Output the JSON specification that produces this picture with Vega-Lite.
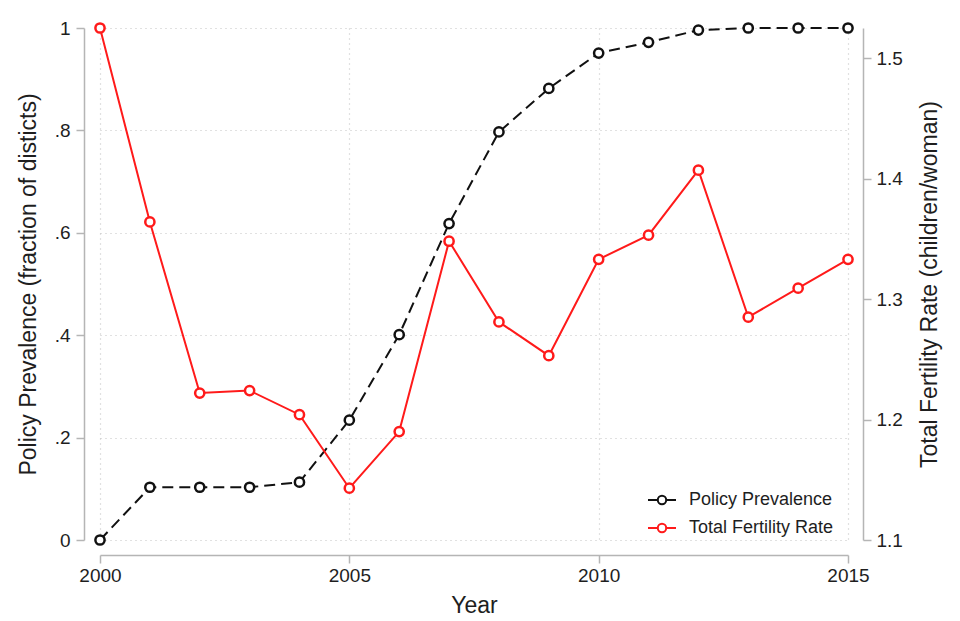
{
  "$schema": "https://vega.github.io/schema/vega-lite/v6.json",
  "width": 748,
  "height": 512,
  "autosize": "none",
  "padding": {"left": 100, "top": 28, "right": 112, "bottom": 81},
  "config": {
    "view": {"stroke": null},
    "font": "Liberation Sans",
    "axis": {
      "domainColor": "#b5b5b5",
      "domainWidth": 1.5,
      "tickColor": "#b5b5b5",
      "tickWidth": 1.5,
      "tickSize": 8,
      "labelFontSize": 19,
      "labelColor": "#1e1e1e",
      "titleFontSize": 23,
      "titleFontWeight": "normal",
      "titleColor": "#1e1e1e",
      "gridColor": "#c4c4c4",
      "gridDash": [1, 4],
      "gridWidth": 1.2
    }
  },
  "data": {
    "values": [
      {"year": 2000, "series": "Policy Prevalence", "value": 0},
      {"year": 2001, "series": "Policy Prevalence", "value": 0.103},
      {"year": 2002, "series": "Policy Prevalence", "value": 0.103},
      {"year": 2003, "series": "Policy Prevalence", "value": 0.103},
      {"year": 2004, "series": "Policy Prevalence", "value": 0.113},
      {"year": 2005, "series": "Policy Prevalence", "value": 0.234},
      {"year": 2006, "series": "Policy Prevalence", "value": 0.401},
      {"year": 2007, "series": "Policy Prevalence", "value": 0.618},
      {"year": 2008, "series": "Policy Prevalence", "value": 0.797},
      {"year": 2009, "series": "Policy Prevalence", "value": 0.882},
      {"year": 2010, "series": "Policy Prevalence", "value": 0.951},
      {"year": 2011, "series": "Policy Prevalence", "value": 0.972},
      {"year": 2012, "series": "Policy Prevalence", "value": 0.996},
      {"year": 2013, "series": "Policy Prevalence", "value": 1.0},
      {"year": 2014, "series": "Policy Prevalence", "value": 1.0},
      {"year": 2015, "series": "Policy Prevalence", "value": 1.0},
      {"year": 2000, "series": "Total Fertility Rate", "value": 1.525},
      {"year": 2001, "series": "Total Fertility Rate", "value": 1.364},
      {"year": 2002, "series": "Total Fertility Rate", "value": 1.222},
      {"year": 2003, "series": "Total Fertility Rate", "value": 1.224},
      {"year": 2004, "series": "Total Fertility Rate", "value": 1.204},
      {"year": 2005, "series": "Total Fertility Rate", "value": 1.143},
      {"year": 2006, "series": "Total Fertility Rate", "value": 1.19},
      {"year": 2007, "series": "Total Fertility Rate", "value": 1.348},
      {"year": 2008, "series": "Total Fertility Rate", "value": 1.281},
      {"year": 2009, "series": "Total Fertility Rate", "value": 1.253},
      {"year": 2010, "series": "Total Fertility Rate", "value": 1.333},
      {"year": 2011, "series": "Total Fertility Rate", "value": 1.353},
      {"year": 2012, "series": "Total Fertility Rate", "value": 1.407},
      {"year": 2013, "series": "Total Fertility Rate", "value": 1.285},
      {"year": 2014, "series": "Total Fertility Rate", "value": 1.309},
      {"year": 2015, "series": "Total Fertility Rate", "value": 1.333}
    ]
  },
  "encoding": {
    "x": {
      "field": "year",
      "type": "quantitative",
      "scale": {"domain": [2000, 2015], "nice": false, "zero": false},
      "axis": {
        "title": "Year",
        "values": [2000, 2005, 2010, 2015],
        "format": "d",
        "grid": true,
        "offset": 15,
        "labelFlush": false,
        "labelPadding": 3,
        "titlePadding": 9
      }
    }
  },
  "layer": [
    {
      "transform": [{"filter": "datum.series == 'Policy Prevalence'"}],
      "encoding": {
        "y": {
          "field": "value",
          "type": "quantitative",
          "scale": {"domain": [0, 1], "nice": false},
          "axis": {
            "orient": "left",
            "title": "Policy Prevalence (fraction of disticts)",
            "values": [0, 0.2, 0.4, 0.6, 0.8, 1],
            "labelExpr": "datum.value == 0 ? '0' : datum.value == 1 ? '1' : replace(format(datum.value, '.1f'), '0.', '.')",
            "labelFlush": false,
            "grid": true,
            "offset": 16,
            "labelPadding": 6,
            "titlePadding": 14
          }
        }
      },
      "layer": [
        {
          "mark": {"type": "line", "strokeWidth": 2, "strokeDash": [11, 6]},
          "encoding": {
            "color": {
              "field": "series",
              "type": "nominal",
              "scale": {"domain": ["Policy Prevalence", "Total Fertility Rate"], "range": ["#111111", "#ff1a1a"]},
              "legend": {
                "title": null,
                "orient": "none",
                "legendX": 547,
                "legendY": 457,
                "labelFontSize": 18,
                "labelColor": "#1e1e1e",
                "symbolType": "M-1,0L-0.3,0M0.3,0L1,0M-0.3,0A0.3,0.3 0 1,0 0.3,0A0.3,0.3 0 1,0 -0.3,0",
                "symbolSize": 784,
                "symbolStrokeWidth": 2,
                "rowPadding": 4,
                "labelOffset": 12
              }
            }
          }
        },
        {
          "mark": {"type": "point", "filled": false, "fill": "white", "color": "#111111", "size": 85, "strokeWidth": 2.5, "opacity": 1}
        }
      ]
    },
    {
      "transform": [{"filter": "datum.series == 'Total Fertility Rate'"}],
      "encoding": {
        "y": {
          "field": "value",
          "type": "quantitative",
          "scale": {"domain": [1.1, 1.525], "nice": false, "zero": false},
          "axis": {
            "orient": "right",
            "title": "Total Fertility Rate (children/woman)",
            "values": [1.1, 1.2, 1.3, 1.4, 1.5],
            "format": ".1f",
            "labelFlush": false,
            "grid": false,
            "offset": 15,
            "labelPadding": 5,
            "titlePadding": 16,
            "titleAngle": 270,
            "titleBaseline": "top"
          }
        }
      },
      "layer": [
        {
          "mark": {"type": "line", "strokeWidth": 2},
          "encoding": {
            "color": {"field": "series", "type": "nominal"}
          }
        },
        {
          "mark": {"type": "point", "filled": false, "fill": "white", "color": "#ff1a1a", "size": 85, "strokeWidth": 2.5, "opacity": 1}
        }
      ]
    }
  ],
  "resolve": {"scale": {"y": "independent"}}
}
